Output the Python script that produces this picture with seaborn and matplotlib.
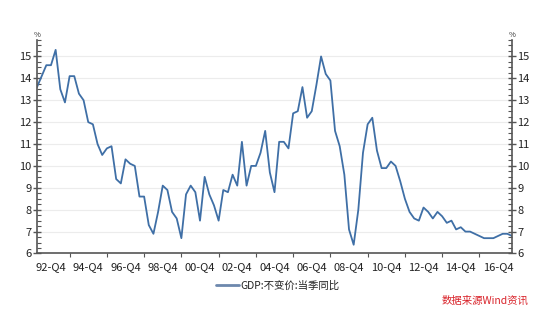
import numpy as np
import pandas as pd
import matplotlib
matplotlib.use("Agg")
import matplotlib.pyplot as plt
from matplotlib.ticker import FixedLocator, MultipleLocator
import seaborn as sns

# Quarterly real GDP growth, year on year (%), 1992Q1 - 2017Q3
years = list(range(1992, 2018))
gdp_yoy = [
    13.6, 14.1, 14.6, 14.6,   # 1992
    15.3, 13.5, 12.9, 14.1,   # 1993
    14.1, 13.3, 13.0, 12.0,   # 1994
    11.9, 11.0, 10.5, 10.8,   # 1995
    10.9, 9.4, 9.2, 10.3,     # 1996
    10.1, 10.0, 8.6, 8.6,     # 1997
    7.3, 6.9, 7.9, 9.1,       # 1998
    8.9, 7.9, 7.6, 6.7,       # 1999
    8.7, 9.1, 8.8, 7.5,       # 2000
    9.5, 8.7, 8.2, 7.5,       # 2001
    8.9, 8.8, 9.6, 9.1,       # 2002
    11.1, 9.1, 10.0, 10.0,    # 2003
    10.6, 11.6, 9.7, 8.8,     # 2004
    11.1, 11.1, 10.8, 12.4,   # 2005
    12.5, 13.6, 12.2, 12.5,   # 2006
    13.7, 15.0, 14.2, 13.9,   # 2007
    11.6, 10.9, 9.6, 7.1,     # 2008
    6.4, 8.0, 10.6, 11.9,     # 2009
    12.2, 10.7, 9.9, 9.9,     # 2010
    10.2, 10.0, 9.3, 8.5,     # 2011
    7.9, 7.6, 7.5, 8.1,       # 2012
    7.9, 7.6, 7.9, 7.7,       # 2013
    7.4, 7.5, 7.1, 7.2,       # 2014
    7.0, 7.0, 6.9, 6.8,       # 2015
    6.7, 6.7, 6.7, 6.8,       # 2016
    6.9, 6.9, 6.8,            # 2017
]
quarters = [f"{y % 100:02d}-Q{q}" for y in years for q in range(1, 5)][:len(gdp_yoy)]
series_name = "GDP:不变价:当季同比"
source_note = "数据来源Wind资讯"
y_ticks = list(range(6, 16))

df = pd.DataFrame({"idx": np.arange(len(gdp_yoy)), "quarter": quarters, "value": gdp_yoy})

sns.set_style("white")
plt.rcParams["font.family"] = ["Noto Sans CJK SC", "DejaVu Sans"]

fig = plt.figure(figsize=(5.5, 3.24), dpi=100)
ax = fig.add_axes([0.0673, 0.2176, 0.8636, 0.6589])

sns.lineplot(data=df, x="idx", y="value", ax=ax, color="#3f6fa6", linewidth=1.3,
             label=series_name, legend=False)

ax.set_xlim(df["idx"].iloc[0], df["idx"].iloc[-1])
ax.set_ylim(6, 15.75)

# x ticks: labels at Q4 of even years, minor marks at Q4 of odd years
major_x = [i for i, q in enumerate(quarters) if q.endswith("Q4") and int(q[:2]) % 2 == 0]
minor_x = [i for i, q in enumerate(quarters) if q.endswith("Q4") and int(q[:2]) % 2 == 1]
ax.xaxis.set_major_locator(FixedLocator(major_x))
ax.set_xticklabels([quarters[i] for i in major_x])
ax.xaxis.set_minor_locator(FixedLocator(minor_x))

ax.yaxis.set_major_locator(FixedLocator(y_ticks))
ax.yaxis.set_minor_locator(MultipleLocator(0.25))
ax.set_yticklabels([str(t) for t in y_ticks])

ax.set_xlabel("")
ax.set_ylabel("")

for side in ["left", "right", "bottom"]:
    ax.spines[side].set_visible(True)
    ax.spines[side].set_color("#555555")
    ax.spines[side].set_linewidth(1.2)
ax.spines["top"].set_visible(False)

ax.tick_params(axis="y", which="major", direction="inout", length=6, width=1,
               color="#555555", labelsize=8, labelcolor="#222222",
               left=True, right=True, labelleft=True, labelright=True, pad=1)
ax.tick_params(axis="y", which="minor", direction="in", length=3, width=0.8,
               color="#555555", left=True, right=True)
ax.tick_params(axis="x", which="major", direction="out", length=4, width=1,
               color="#555555", labelsize=8, labelcolor="#222222", pad=2)
ax.tick_params(axis="x", which="minor", direction="out", length=3, width=0.8,
               color="#555555", bottom=True)

for t in range(7, 16):
    ax.axhline(t, color="#ececec", linewidth=0.8, zorder=0)

# unit markers above the two value axes
ax.text(0.0, 1.005, "%", transform=ax.transAxes, fontsize=5.5, ha="center",
        va="bottom", color="#333333")
ax.text(1.0, 1.005, "%", transform=ax.transAxes, fontsize=5.5, ha="center",
        va="bottom", color="#333333")

# legend below the plot
handles, labels = ax.get_legend_handles_labels()
fig.legend(handles, labels, loc="center", bbox_to_anchor=(0.505, 0.118),
           frameon=False, fontsize=7.5, handlelength=2.2, handletextpad=0.2,
           labelcolor="#222222")
for line in fig.legends[0].get_lines():
    line.set_color("#6d88ad")
    line.set_linewidth(2)

fig.text(0.96, 0.072, source_note, color="#d9232a", fontsize=7.5,
         style="italic", ha="right", va="center")

fig.savefig("out.png", dpi=100, facecolor="white")
